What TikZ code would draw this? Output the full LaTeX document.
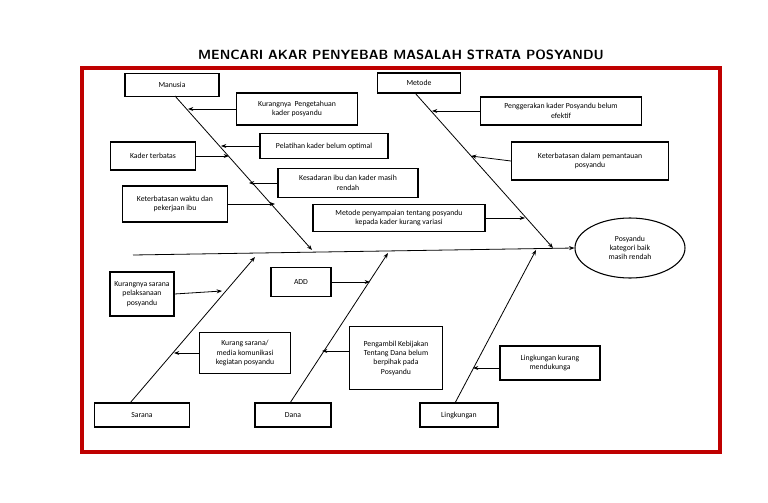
\documentclass[tikz,border=0pt]{standalone}
\usepackage{fontspec}
\setmainfont{Carlito}
\usetikzlibrary{arrows.meta,shapes.geometric}
\begin{document}
\begin{tikzpicture}[x=0.75pt,y=-0.75pt,
  bx/.style={draw,thick,align=center,inner sep=1pt,font=\fontsize{5.8}{7}\selectfont},
  ar/.style={-{Stealth[length=4pt,width=3pt]},semithick},
  bone/.style={-{Stealth[length=4pt,width=3pt]},semithick}]
\useasboundingbox (0,0) rectangle (768,503);
\node[font=\sffamily\bfseries\fontsize{10}{12}\selectfont] (title) at (401,55) {MENCARI AKAR PENYEBAB MASALAH STRATA POSYANDU};
\draw[red!75!black,line width=2.4pt] (82,68) rectangle (720,452);
% head
\node[draw,thick,ellipse,minimum width={110*0.75pt},minimum height={60*0.75pt},align=center,font=\fontsize{5.8}{7}\selectfont] (head) at (630,248) {Posyandu\\kategori baik\\masih rendah};
\coordinate (s0) at (133,255);
\draw[bone] (s0) -- (head.west);
% category boxes
\newcommand{\bxn}[6]{\node[bx,minimum width={#4*0.75pt},minimum height={#5*0.75pt}] (#1) at (#2,#3) {#6};}
\bxn{manusia}{172}{85}{94}{23}{Manusia}
\bxn{metode}{419}{83}{83}{20}{Metode}
\bxn{sarana}{142}{415}{95}{24}{Sarana}
\bxn{dana}{293}{415}{76}{24}{Dana}
\bxn{lingk}{459}{415}{78}{24}{Lingkungan}
\coordinate (m1) at (312,250);
\coordinate (t1) at (553,248);
\coordinate (b1) at (255,257);
\coordinate (b2) at (388,253);
\coordinate (b3) at (536,250);
\draw[bone] (175,96) coordinate (ms) -- (m1);
\draw[bone] (415,93) coordinate (mt) -- (t1);
\draw[bone] (130,403) coordinate (ss) -- (b1);
\draw[bone] (290,403) coordinate (ds) -- (b2);
\draw[bone] (455,403) coordinate (ls) -- (b3);
% cause boxes
\bxn{k1}{297}{109}{121}{32}{Kurangnya\ \ Pengetahuan\\kader posyandu}
\bxn{k2}{324}{146}{128}{25}{Pelatihan kader belum optimal}
\bxn{k3}{153}{156}{85}{28}{Kader terbatas}
\bxn{k4}{348}{183}{140}{29}{Kesadaran ibu dan kader masih\\rendah}
\bxn{k5}{175}{204}{105}{36}{Keterbatasan waktu dan\\pekerjaan ibu}
\bxn{k6}{399}{218}{172}{27}{Metode penyampaian tentang posyandu\\kepada kader kurang variasi}
\bxn{k7}{561}{111}{161}{28}{Penggerakan kader Posyandu belum\\efektif}
\bxn{k8}{590}{161}{157}{38}{Keterbatasan dalam pemantauan\\posyandu}
\bxn{k9}{142}{294}{64}{44}{Kurangnya sarana\\pelaksanaan\\posyandu}
\bxn{k10}{301}{282}{60}{29}{ADD}
\bxn{k11}{245}{353}{91}{41}{Kurang sarana/\\media komunikasi\\kegiatan posyandu}
\bxn{k12}{396}{358}{93}{63}{Pengambil Kebijakan\\Tentang Dana belum\\berpihak pada\\Posyandu}
\bxn{k13}{550}{363}{100}{34}{Lingkungan kurang\\mendukunga}
% cause arrows
\coordinate (a1) at (188,109);
\coordinate (a2) at (221,146);
\coordinate (a3) at (229,156);
\coordinate (a4) at (249,183);
\coordinate (a5) at (275,204);
\coordinate (a6) at (525,218);
\coordinate (a7) at (432,111);
\coordinate (a8) at (471,156);
\coordinate (a9) at (222,291);
\coordinate (a10) at (370,282);
\coordinate (a11) at (174,353);
\coordinate (a12) at (322,351);
\coordinate (a13) at (473,368);
\draw[ar] (k1.west) -- (a1);
\draw[ar] (k2.west) -- (a2);
\draw[ar] (k3.east) -- (a3);
\draw[ar] (k4.west) -- (a4);
\draw[ar] (k5.east) -- (a5);
\draw[ar] (k6.east) -- (a6);
\draw[ar] (k7.west) -- (a7);
\draw[ar] (k8.west) -- (a8);
\draw[ar] (k9.east) -- (a9);
\draw[ar] (k10.east) -- (a10);
\draw[ar] (k11.west) -- (a11);
\draw[ar] (k12.west|-a12) -- (a12);
\draw[ar] (k13.west|-a13) -- (a13);
\end{tikzpicture}
\end{document}
